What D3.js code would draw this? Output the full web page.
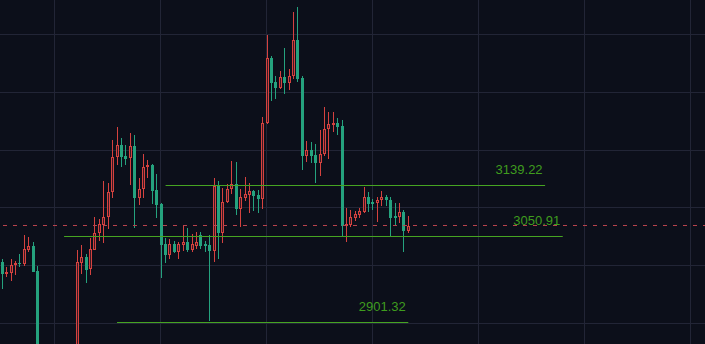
<!DOCTYPE html>
<html>
<head>
<meta charset="utf-8">
<script src="https://cdn.jsdelivr.net/npm/d3@7"></script>
<style>
  html, body { margin: 0; padding: 0; background: #0c0f1a; overflow: hidden; }
</style>
</head>
<body>
<div id="chart-container"></div>
<script>
// step 1 the data, one entry per candle
// candles 9-16 sit below the visible price range
let openPrices = [
  3006.1, 2985.3, 2987.5, 3000.3, 3004.3, 3002.1, 3027.3, 3033.7, 2991.0, 2835,
  2820, 2829, 2818, 2808, 2824, 2815, 2829, 2842, 3004.8, 3014.7,
  2993.4, 3027.3, 3055.7, 3070.1, 3084.4, 3126.3, 3187.2, 3208.0, 3189.4, 3185.5,
  3206.7, 3116.8, 3131.8, 3169.9, 3173.9, 3130.6, 3106.4, 3036.7, 3018.2, 3037.7,
  3023.4, 3035.5, 3040.7, 3026.8, 3032.9, 3052.3, 3036.7, 3035.5, 3025.6, 3138.1,
  3056.8, 3109.3, 3131.8, 3140.5, 3097.8, 3117.3, 3122.5, 3128.9, 3122.0, 3115.1,
  3245.7, 3359.5, 3318.0, 3307.6, 3325.6, 3316.3, 3327.3, 3390.1, 3324.4, 3190.0,
  3199.8, 3191.2, 3177.9, 3192.4, 3235.6, 3243.6, 3246.0, 3241.4, 3068.3, 3070.1,
  3082.7, 3087.9, 3093.1, 3118.5, 3109.9, 3108.1, 3112.8, 3118.0, 3113.3, 3085.6,
  3083.4, 3092.0, 3060.2
];
let highPrices = [
  3011.2, 2997.9, 3012.1, 3007.8, 3019.9, 3052.3, 3048.8, 3040.7, 2999.1, 2852,
  2838, 2846, 2833, 2830, 2842, 2836, 2850, 3026.8, 3035.5, 3019.9,
  3048.1, 3084.4, 3079.9, 3146.2, 3141.9, 3217.1, 3240.1, 3220.6, 3208.0, 3228.7,
  3225.8, 3150.9, 3193.4, 3182.5, 3175.6, 3158.3, 3107.6, 3048.1, 3045.3, 3042.4,
  3041.5, 3069.5, 3065.7, 3054.5, 3057.4, 3057.4, 3042.9, 3052.8, 3150.9, 3146.2,
  3134.6, 3141.0, 3180.8, 3178.5, 3132.4, 3152.6, 3142.7, 3130.6, 3130.6, 3257.4,
  3398.8, 3362.5, 3327.9, 3336.5, 3375.8, 3339.4, 3438.1, 3447.8, 3327.9, 3215.4,
  3213.2, 3210.2, 3234.4, 3273.7, 3265.1, 3265.1, 3255.7, 3251.7, 3099.0, 3096.0,
  3094.3, 3100.0, 3135.3, 3126.6, 3115.1, 3119.0, 3128.9, 3122.0, 3119.0, 3107.6,
  3107.6, 3096.0, 3085.6
];
let lowPrices = [
  2959.9, 2980.1, 2973.7, 2984.1, 2996.9, 2998.3, 3023.4, 2988.8, 2826, 2812,
  2801, 2815, 2795, 2800, 2812, 2806, 2821, 2835, 2985.3, 2969.7,
  2983.6, 3026.8, 3042.9, 3038.9, 3063.7, 3116.3, 3173.9, 3170.9, 3173.9, 3139.3,
  3065.4, 3104.7, 3117.3, 3151.4, 3106.4, 3081.7, 2978.4, 3004.8, 3011.2, 3022.1,
  3011.2, 3025.1, 3023.4, 3023.4, 3029.1, 3028.5, 3023.9, 2904.0, 3006.1, 3010.7,
  3039.4, 3108.1, 3123.7, 3087.4, 3067.1, 3111.6, 3090.3, 3094.8, 3091.4, 3097.8,
  3244.8, 3284.6, 3288.1, 3304.8, 3296.7, 3303.6, 3322.1, 3318.0, 3165.2, 3179.6,
  3176.8, 3143.3, 3154.8, 3189.4, 3184.8, 3231.5, 3225.8, 3051.0, 3041.2, 3066.1,
  3077.0, 3081.7, 3090.3, 3093.1, 3095.2, 3075.8, 3102.9, 3102.9, 3048.8, 3068.3,
  3074.1, 3022.8, 3055.7
];
let closePrices = [
  2985.3, 2988.8, 3000.3, 3004.3, 3002.1, 3028.5, 3033.7, 2989.3, 2835, 2820,
  2829, 2818, 2808, 2824, 2815, 2829, 2842, 3006.1, 3014.2, 2992.2,
  3028.0, 3055.7, 3071.3, 3084.4, 3126.3, 3187.2, 3208.0, 3187.7, 3184.3, 3206.7,
  3116.8, 3131.8, 3169.9, 3173.9, 3129.4, 3104.7, 3035.5, 3018.2, 3037.7, 3023.4,
  3036.7, 3040.1, 3026.8, 3036.7, 3040.1, 3034.3, 3034.3, 3025.6, 3138.1, 3056.8,
  3109.3, 3131.8, 3140.5, 3097.8, 3118.0, 3123.2, 3128.4, 3120.2, 3115.1, 3246.0,
  3358.5, 3316.3, 3307.6, 3325.6, 3316.3, 3327.3, 3390.1, 3323.2, 3190.0, 3199.8,
  3190.0, 3177.9, 3192.4, 3235.6, 3244.3, 3246.0, 3240.1, 3068.3, 3071.3, 3083.4,
  3088.6, 3093.8, 3118.5, 3106.4, 3106.9, 3113.8, 3118.0, 3113.8, 3082.7, 3082.7,
  3092.0, 3060.2, 3068.9
];

// horizontal price lines drawn on the chart (start / end candle index)
let levelPrices = [3139.22, 3050.91, 2901.32];
let levelFrom = [37, 14, 26];
let levelTo = [123, 127, 92];

// grid ticks
let priceTicks = [2900, 3000, 3100, 3200, 3300, 3400];
let timeTicks = [11.8, 35.8, 59.8, 83.8, 107.8, 131.8, 155.8];

// step 2 define the svg
let width = 705,
    height = 344;

let upColor = "#d5423f",
    upFill = "#3a1a24",
    downColor = "#25a27e",
    levelColor = "#46a422",
    gridColor = "#222536";

let svg = d3.select("#chart-container")
    .append("svg")
    .attr("width", width)
    .attr("height", height);

svg.append("rect")
    .attr("width", width)
    .attr("height", height)
    .attr("fill", "#0c0f1a");

// step 3 define the scales
let x = d3.scaleLinear().domain([0, 92]).range([2.3, 408.3]);
let y = d3.scaleLinear().domain([2900, 3400]).range([323.3, 34.3]);

// keep 1px lines on whole pixels
function snap(v) { return Math.round(v - 0.3) + 0.5; }
function px(i) { return Math.floor(x(i)); }

// step 4 grid
svg.append("g")
    .selectAll("line")
    .data(priceTicks)
    .join("line")
    .attr("x1", 0)
    .attr("x2", width)
    .attr("y1", d => snap(y(d)))
    .attr("y2", d => snap(y(d)))
    .attr("stroke", gridColor)
    .attr("stroke-width", 1);

svg.append("g")
    .selectAll("line")
    .data(timeTicks)
    .join("line")
    .attr("x1", d => Math.round(x(d)) + 0.5)
    .attr("x2", d => Math.round(x(d)) + 0.5)
    .attr("y1", 0)
    .attr("y2", height)
    .attr("stroke", gridColor)
    .attr("stroke-width", 1);

// step 5 candles
let candles = d3.range(openPrices.length).map(i => ({
    i: i,
    open: openPrices[i],
    high: highPrices[i],
    low: lowPrices[i],
    close: closePrices[i],
    up: closePrices[i] >= openPrices[i]
}));

let candle = svg.append("g")
    .selectAll("g")
    .data(candles)
    .join("g");

candle.append("line")
    .attr("x1", d => px(d.i) + 0.5)
    .attr("x2", d => px(d.i) + 0.5)
    .attr("y1", d => Math.round(y(d.high)))
    .attr("y2", d => Math.round(y(d.low)))
    .attr("stroke", d => d.up ? upColor : downColor)
    .attr("stroke-width", 1);

// falling candles: solid body
candle.filter(d => !d.up)
    .append("rect")
    .attr("x", d => px(d.i) - 1)
    .attr("y", d => Math.round(y(d.open)))
    .attr("width", 3)
    .attr("height", d => Math.max(1, Math.round(y(d.close)) - Math.round(y(d.open))))
    .attr("fill", downColor);

// rising candles: outlined body
candle.filter(d => d.up)
    .append("rect")
    .attr("x", d => px(d.i) - 0.5)
    .attr("y", d => Math.round(y(d.close)) + 0.5)
    .attr("width", 2)
    .attr("height", d => Math.max(1, Math.round(y(d.open)) - Math.round(y(d.close)) - 1))
    .attr("fill", upFill)
    .attr("stroke", upColor)
    .attr("stroke-width", 1);

// step 6 last price line
let lastClose = closePrices[closePrices.length - 1];

svg.append("line")
    .attr("x1", 3)
    .attr("x2", width)
    .attr("y1", snap(y(lastClose)))
    .attr("y2", snap(y(lastClose)))
    .attr("stroke", "#b8434d")
    .attr("stroke-width", 1)
    .attr("stroke-dasharray", "4,6");

// step 7 price levels with labels
let levels = svg.append("g")
    .selectAll("g")
    .data(levelPrices)
    .join("g");

levels.append("line")
    .attr("x1", (d, k) => x(levelFrom[k]))
    .attr("x2", (d, k) => x(levelTo[k]))
    .attr("y1", d => snap(y(d)))
    .attr("y2", d => snap(y(d)))
    .attr("stroke", levelColor)
    .attr("stroke-width", 1);

levels.append("text")
    .attr("x", (d, k) => x(levelTo[k]) - 2.5)
    .attr("y", d => snap(y(d)) - 11.5)
    .attr("text-anchor", "end")
    .attr("fill", "#3f9c1e")
    .style("font-family", "'Liberation Sans', Arial, sans-serif")
    .style("font-size", "13px")
    .text(d => d.toFixed(2));
</script>
</body>
</html>
